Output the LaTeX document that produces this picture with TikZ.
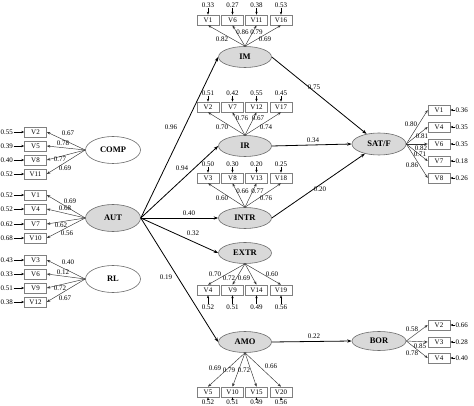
\documentclass[tikz,border=0pt]{standalone}
\usepackage{fontspec}
\setmainfont{Liberation Serif}
\usetikzlibrary{shapes.geometric,arrows.meta}
\begin{document}
\begin{tikzpicture}[x=1pt,y=-1pt,
  lat/.style={ellipse,draw=gray!85!black,line width=0.6pt,fill=gray!30,minimum width=53pt,minimum height=21pt,inner sep=0pt,font=\fontsize{8.5}{9}\selectfont\bfseries},
  latw/.style={lat,fill=white,minimum width=55pt,minimum height=27pt},
  ind/.style={draw=gray,line width=0.6pt,minimum width=22pt,minimum height=10pt,inner sep=0pt,font=\fontsize{7}{8}\selectfont},
  num/.style={inner sep=0.5pt,font=\fontsize{7}{8}\selectfont},
  ldarrow/.style={-{Stealth[length=3.5pt,width=2.6pt]},line width=0.45pt,draw=black!80},
  sarrow/.style={-{Stealth[length=4.5pt,width=3.2pt]},line width=0.8pt},
  err/.style={-{Stealth[length=3pt,width=2.4pt]},line width=0.5pt}
]
\useasboundingbox (0,0) rectangle (474,406);

% ---------- left exogenous factors ----------
\node[latw] (COMP) at (113,150) {COMP};
\node[lat,minimum width=55pt,minimum height=27pt] (AUT) at (113,218) {AUT};
\node[latw] (RL) at (113,279) {RL};

\foreach \v/\y/\e/\l/\lx/\ly [count=\i] in {V2/132/0.55/0.67/68/133, V5/146/0.39/0.78/63/143, V8/160/0.40/0.77/60/159, V11/174/0.52/0.69/65/168}
{ \node[ind] (c\i) at (35.5,\y) {\v};
  \node[num,anchor=east] (ce\i) at (13.5,\y) {\e};
  \draw[err] (ce\i) -- (c\i);
  \draw[ldarrow] (COMP.west) -- (c\i.east);
  \node[num] (cl\i) at (\lx,\ly) {\l}; }

\foreach \v/\y/\e/\l/\lx/\ly [count=\i] in {V1/195/0.52/0.69/70/201, V4/209/0.52/0.68/65/208, V7/224/0.62/0.62/61/225, V10/238/0.68/0.56/67/233}
{ \node[ind] (a\i) at (35.5,\y) {\v};
  \node[num,anchor=east] (ae\i) at (13.5,\y) {\e};
  \draw[err] (ae\i) -- (a\i);
  \draw[ldarrow] (AUT.west) -- (a\i.east);
  \node[num] (al\i) at (\lx,\ly) {\l}; }

\foreach \v/\y/\e/\l/\lx/\ly [count=\i] in {V3/260/0.43/0.40/68/262, V6/274/0.33/0.12/63/272, V9/288/0.51/0.72/60/288, V12/302/0.38/0.67/65/298}
{ \node[ind] (r\i) at (35.5,\y) {\v};
  \node[num,anchor=east] (re\i) at (13.5,\y) {\e};
  \draw[err] (re\i) -- (r\i);
  \draw[ldarrow] (RL.west) -- (r\i.east);
  \node[num] (rl\i) at (\lx,\ly) {\l}; }

% ---------- middle factors ----------
\node[lat] (IM) at (245,57) {IM};
\node[lat] (IR) at (245,146) {IR};
\node[lat] (INTR) at (245,218) {INTR};
\node[lat] (EXTR) at (245,253) {EXTR};
\node[lat] (AMO) at (245,342) {AMO};

\foreach \v/\x/\e/\l/\lx/\ly [count=\i] in {V1/208/0.33/0.82/222/39, V6/232.5/0.27/0.86/242.5/32, V11/256.5/0.38/0.79/256.5/32, V16/281/0.53/0.69/265/39}
{ \node[ind] (m\i) at (\x,20) {\v};
  \node[num] (me\i) at (\x,5) {\e};
  \draw[err] (me\i) -- (m\i);
  \draw[ldarrow] (IM.north) -- (m\i.south);
  \node[num] (ml\i) at (\lx,\ly) {\l}; }

\foreach \v/\x/\e/\l/\lx/\ly [count=\i] in {V2/208/0.51/0.70/222/127, V7/232.5/0.42/0.76/242/118, V12/256.5/0.55/0.67/258/118, V17/281/0.45/0.74/266/127}
{ \node[ind] (i\i) at (\x,107) {\v};
  \node[num] (ie\i) at (\x,93) {\e};
  \draw[err] (ie\i) -- (i\i);
  \draw[ldarrow] (IR.north) -- (i\i.south);
  \node[num] (il\i) at (\lx,\ly) {\l}; }

\foreach \v/\x/\e/\l/\lx/\ly [count=\i] in {V3/208/0.50/0.60/222/198, V8/232.5/0.30/0.66/242.5/191, V13/256.5/0.20/0.77/257.5/191, V18/281/0.25/0.76/266/198}
{ \node[ind] (t\i) at (\x,178) {\v};
  \node[num] (te\i) at (\x,164) {\e};
  \draw[err] (te\i) -- (t\i);
  \draw[ldarrow] (INTR.north) -- (t\i.south);
  \node[num] (tl\i) at (\lx,\ly) {\l}; }

\foreach \v/\x/\e/\l/\lx/\ly [count=\i] in {V4/208/0.52/0.70/215/274, V9/232.5/0.51/0.72/229/278, V14/256.5/0.49/0.69/244/278, V19/281/0.56/0.60/272/274}
{ \node[ind] (x\i) at (\x,290) {\v};
  \node[num] (xe\i) at (\x,307) {\e};
  \draw[err] (xe\i) -- (x\i);
  \draw[ldarrow] (EXTR.south) -- (x\i.north);
  \node[num] (xl\i) at (\lx,\ly) {\l}; }

\foreach \v/\x/\e/\l/\lx/\ly [count=\i] in {V5/208/0.52/0.69/215/368, V10/232.5/0.51/0.79/229/370, V15/256.5/0.49/0.72/244/370, V20/281/0.56/0.66/271/366}
{ \node[ind] (o\i) at (\x,392) {\v};
  \node[num] (oe\i) at (\x,402.5) {\e};
  \draw[err] (oe\i) -- (o\i);
  \draw[ldarrow] (AMO.south) -- (o\i.north);
  \node[num] (ol\i) at (\lx,\ly) {\l}; }

% ---------- right factors ----------
\node[lat,minimum width=54pt,minimum height=22pt] (SATF) at (379,144) {SAT/F};
\node[lat,minimum width=54pt,minimum height=19pt] (BOR) at (379,341) {BOR};

\foreach \v/\y/\e/\l/\lx/\ly [count=\i] in {V1/110/0.36/0.80/411/124, V4/127/0.35/0.81/422/136, V6/144/0.35/0.82/421/148, V7/161/0.18/0.71/420/154, V8/178/0.26/0.86/412/165}
{ \node[ind] (s\i) at (439,\y) {\v};
  \node[num,anchor=west] (se\i) at (455,\y) {\e};
  \draw[err] (se\i) -- (s\i);
  \draw[ldarrow] (SATF.east) -- (s\i.west);
  \node[num] (sl\i) at (\lx,\ly) {\l}; }

\foreach \v/\y/\e/\l/\lx/\ly [count=\i] in {V2/325/0.66/0.58/412/329, V3/342/0.28/0.85/420/346, V4/358/0.40/0.78/412/353}
{ \node[ind] (b\i) at (439,\y) {\v};
  \node[num,anchor=west] (be\i) at (455,\y) {\e};
  \draw[err] (be\i) -- (b\i);
  \draw[ldarrow] (BOR.east) -- (b\i.west);
  \node[num] (bl\i) at (\lx,\ly) {\l}; }

% ---------- structural paths ----------
\draw[sarrow] (AUT.east) -- (IM.west);
\draw[sarrow] (AUT.east) -- (IR.west);
\draw[sarrow] (AUT.east) -- (INTR.west);
\draw[sarrow] (AUT.east) -- (EXTR.west);
\draw[sarrow] (AUT.east) -- (AMO.west);
\draw[sarrow] (IM.east) -- (SATF);
\draw[sarrow] (IR.east) -- (SATF.west);
\draw[sarrow] (INTR.east) -- (SATF);
\draw[sarrow] (AMO.east) -- (BOR.west);

\node[num] (p1) at (171,127) {0.96};
\node[num] (p2) at (182,168) {0.94};
\node[num] (p3) at (189,213) {0.40};
\node[num] (p4) at (193,233) {0.32};
\node[num] (p5) at (166,277) {0.19};
\node[num] (p6) at (314,87) {0.75};
\node[num] (p7) at (313,140) {0.34};
\node[num] (p8) at (320,189) {0.20};
\node[num] (p9) at (314,336) {0.22};
\end{tikzpicture}
\end{document}
